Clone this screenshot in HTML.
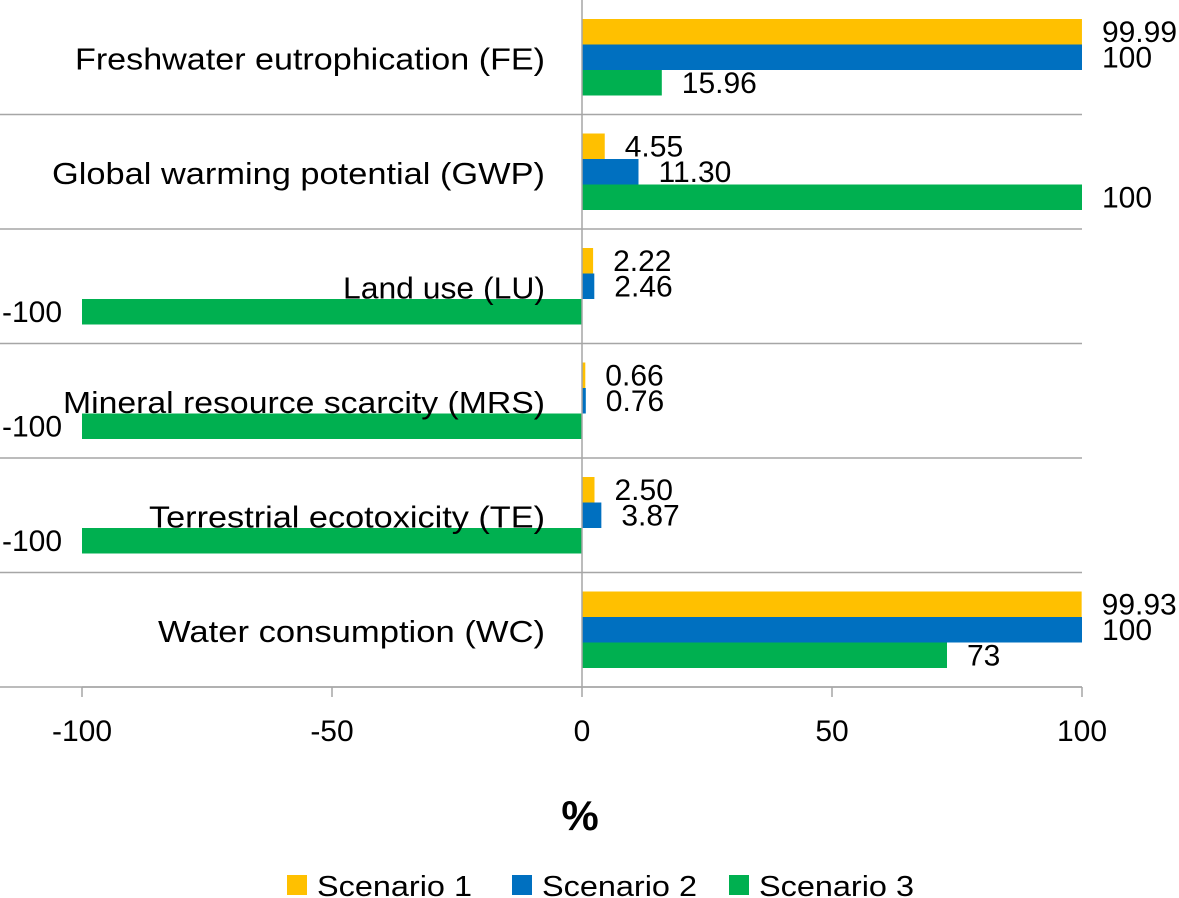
<!DOCTYPE html>
<html><head><meta charset="utf-8"><style>
body{margin:0;background:#fff;}
svg{display:block;font-family:"Liberation Sans",sans-serif;}
</style></head><body>
<svg id="chart" width="1179" height="898"></svg>
<script>
const categories=["Freshwater eutrophication (FE)","Global warming potential (GWP)","Land use (LU)","Mineral resource scarcity (MRS)","Terrestrial ecotoxicity (TE)","Water consumption (WC)"];
const scenario1=[99.99,4.55,2.22,0.66,2.50,99.93];
const scenario2=[100,11.30,2.46,0.76,3.87,100];
const scenario3=[15.96,100,-100,-100,-100,73];
const labels1=["99.99","4.55","2.22","0.66","2.50","99.93"];
const labels2=["100","11.30","2.46","0.76","3.87","100"];
const labels3=["15.96","100","-100","-100","-100","73"];
const xTicks=[-100,-50,0,50,100];
const seriesNames=["Scenario 1","Scenario 2","Scenario 3"];
const colors=["#FFC000","#0070C0","#00B050"];
const catWidths=[470,493,202,482,396,387];

const svgEl=document.getElementById('chart');
const NS="http://www.w3.org/2000/svg";
const plotTop=0,plotBottom=687,bandH=(plotBottom-plotTop)/categories.length;
const xs=v=>582+v*5;
function mk(tag,attrs,parent){const e=document.createElementNS(NS,tag);for(const k in attrs)e.setAttribute(k,attrs[k]);(parent||svgEl).appendChild(e);return e;}

for(let i=1;i<=categories.length;i++){
  const y=plotTop+i*bandH;
  const l=mk('line',{x1:0,x2:1082,y1:y,y2:y,stroke:'#A6A6A6','stroke-width':1.5});
  
  
}
const series=[scenario1,scenario2,scenario3];
const slabels=[labels1,labels2,labels3];
const barH=25.5;
categories.forEach((c,i)=>{
  const y0=plotTop+i*bandH+(bandH-3*barH)/2;
  series.forEach((s,j)=>{
    const v=s[i];const y=y0+j*barH;
    const r=mk('rect',{x:Math.min(xs(0),xs(v)),y:y,width:Math.abs(xs(v)-xs(0)),height:barH,fill:colors[j]});
    
    
    const t=mk('text',{y:y+barH/2+10,'font-size':30,fill:'#000'});
    if(v>=0){t.setAttribute('x',xs(v)+20);}else{t.setAttribute('x',xs(v)-20);t.setAttribute('text-anchor','end');}
    t.textContent=slabels[j][i];
    
    
  });
  const ct=mk('text',{x:545-catWidths[i],y:plotTop+i*bandH+bandH/2+12,'font-size':31,textLength:catWidths[i],lengthAdjust:'spacingAndGlyphs',fill:'#000'});
  ct.textContent=c;
  
  
});
const va=mk('line',{x1:xs(0),x2:xs(0),y1:0,y2:plotBottom,stroke:'#A6A6A6','stroke-width':1.5});


const ha=mk('line',{x1:82,x2:1082,y1:plotBottom,y2:plotBottom,stroke:'#A6A6A6','stroke-width':1.5});


xTicks.forEach(v=>{
  const tk=mk('line',{x1:xs(v),x2:xs(v),y1:plotBottom,y2:plotBottom+10,stroke:'#A6A6A6','stroke-width':1.5});
  
  
  const t=mk('text',{x:xs(v),y:741,'font-size':30,'text-anchor':'middle'});
  t.textContent=String(v);
  
  
});
const at=mk('text',{x:580,y:830,'font-size':42,'font-weight':'bold','text-anchor':'middle'});
at.textContent='%';


const lx=[287,512,729];
seriesNames.forEach((n,j)=>{
  const g=mk('g',{});
  
  
  mk('rect',{x:lx[j],y:875,width:20,height:20,fill:colors[j]},g);
  const t=mk('text',{x:lx[j]+30,y:896,'font-size':29,textLength:155,lengthAdjust:'spacingAndGlyphs'},g);
  t.textContent=n;
});
</script>
</body></html>
